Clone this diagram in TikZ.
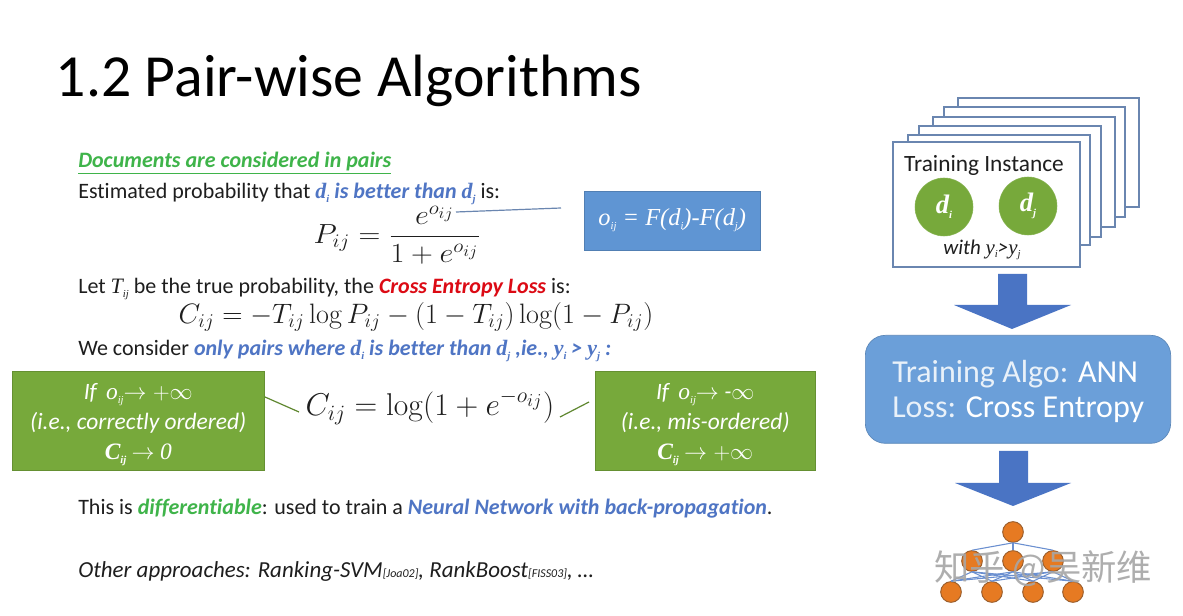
\documentclass[tikz,border=0pt]{standalone}
\usepackage[no-math]{fontspec}
\setmainfont[Ligatures=NoCommon]{Carlito}
\newfontfamily\cjk{Noto Sans CJK SC}
\newfontfamily\serifm{Liberation Serif}
\definecolor{hlblue}{HTML}{4F75C4}
\definecolor{hlgreen}{HTML}{3FB44A}
\definecolor{hlred}{HTML}{DC0A14}
\definecolor{boxgreen}{HTML}{77A93B}
\definecolor{boxblue}{HTML}{5F95D3}
\definecolor{algoblue}{HTML}{6B9FD9}
\definecolor{arrowblue}{HTML}{4A74C4}
\definecolor{stackline}{HTML}{6A86B0}
\definecolor{treeorange}{HTML}{E67A22}
\definecolor{treeedge}{HTML}{6A8FD0}
\definecolor{textdark}{HTML}{1E1E1E}
\newcommand{\bi}[2]{{\color{#1}\bfseries\itshape #2}}
\newcommand{\dn}[1]{\raisebox{-0.35ex}{\footnotesize #1}}
\newcommand{\mv}[1]{{\serifm\itshape #1}}
\tikzset{
  x=0.75pt,y=-0.75pt,
  line/.style={font=\fontsize{16.5}{19}\selectfont,anchor=base west,inner sep=0pt,text=textdark},
  formula/.style={inner sep=0pt,text=textdark,font=\fontsize{20.74}{25}\selectfont},
  greenbox/.style={fill=boxgreen,draw=boxgreen!85!black,line width=0.4pt,text=white,align=center,inner sep=0pt,font=\fontsize{17.6}{22.5}\selectfont\itshape,anchor=north west},
  link/.style={draw=#1,line width=0.9pt},
  sheet/.style={draw=stackline,line width=0.8pt,fill=white},
  doc/.style={circle,fill=boxgreen,draw=boxgreen!90!white,minimum size=43.5pt,inner sep=0pt,text=white,font=\fontsize{20}{22}\selectfont\bfseries\itshape},
  neuron/.style={circle,fill=treeorange,draw=treeorange!70!black!80!gray,line width=0.7pt,minimum size=15.5pt,inner sep=0pt},
  edge/.style={draw=treeedge,line width=0.8pt},
  bigarrow/.style={fill=arrowblue},
}
\begin{document}
\begin{tikzpicture}
\useasboundingbox (0,0) rectangle (1183,616);
\fill[white] (0,0) rectangle (1183,616);

% title
\node[anchor=base west,inner sep=0pt,text=black,font=\fontsize{44.8}{50}\selectfont] (title) at (55.5,97) {1.2 Pair-wise Algorithms};

% left text
\node[line] (t1) at (78,168) {{\color{hlgreen}\underline{\bfseries\itshape Documents are considered in pairs}}};
\node[line] (t2) at (78,199) {Estimated probability that \bi{hlblue}{\mv{d}\dn{\mv{i}} is better than \mv{d}\dn{\mv{j}}} is:};
\node[formula,xscale=1.095] (p) at (397,235) {$\displaystyle P_{ij}=\frac{e^{o_{ij}}}{1+e^{o_{ij}}}$};
\node[line] (t3) at (78,294) {Let \mv{T}\dn{\mv{ij}} be the true probability, the \bi{hlred}{Cross Entropy Loss} is:};
\node[formula,scale=1.015] (c) at (416,317) {$\displaystyle C_{ij}=-T_{ij}\log P_{ij}-(1-T_{ij})\log(1-P_{ij})$};
\node[line] (t4) at (78,356) {We consider \bi{hlblue}{only pairs where \mv{d}\dn{\mv{i}} is better than \mv{d}\dn{\mv{j}} ,ie., \mv{y}\dn{\mv{i}} > \mv{y}\dn{\mv{j}} :}};
\node[formula,scale=1.139] (l) at (430,407) {$\displaystyle C_{ij}=\log(1+e^{-o_{ij}})$};
\node[line] (t5) at (78,515) {This is \bi{hlgreen}{differentiable}: used to train a \bi{hlblue}{Neural Network with back-propagation}.};
\node[line,font=\fontsize{17.2}{19}\selectfont] (t6) at (78,578) {\itshape Other approaches: Ranking-SVM{\small [Joa02]}, RankBoost{\small [FISS03]}, \dots};

% blue box
\node[fill=boxblue,draw=boxblue!85!black,line width=0.4pt,text=white,minimum width=132pt,minimum height=44pt,inner sep=0pt,anchor=north west,font=\fontsize{18.3}{20}\selectfont\serifm\itshape] (obox) at (584,191) {o\dn{ij} = F(d\dn{i})-F(d\dn{j})};
\coordinate (oa) at (456,212);
\coordinate (ob) at (561,208);
\draw[link=stackline] (oa) -- (ob);

% green boxes
\node[greenbox,minimum width=189pt,minimum height=74pt] (gl) at (12,371) {\rule{0pt}{18.5pt}If\, \mv{o}\dn{\mv{ij}}$\rightarrow +\infty$\\(i.e., correctly ordered)\\\mv{\bfseries C}\dn{\mv{\bfseries ij}} $\rightarrow$ \mv{0}};
\node[greenbox,minimum width=165pt,minimum height=74pt] (gr) at (595,371) {\rule{0pt}{18.5pt}If\, \mv{o}\dn{\mv{ij}}$\rightarrow$ -$\infty$\\(i.e., mis-ordered)\\\mv{\bfseries C}\dn{\mv{\bfseries ij}} $\rightarrow +\infty$};
\coordinate (la) at (265,397);
\coordinate (lb) at (299,412);
\coordinate (ra) at (560,417);
\coordinate (rb) at (589,402);
\draw[link=boxgreen!80!black] (la) -- (lb);
\draw[link=boxgreen!80!black] (ra) -- (rb);

% stack of training instances
\draw[sheet] (958,98) rectangle (1139,207);
\draw[sheet] (944,107) rectangle (1125,217);
\draw[sheet] (933,117) rectangle (1115,227);
\draw[sheet] (919,126) rectangle (1101,237);
\draw[sheet] (908,135) rectangle (1090,245);
\draw[sheet] (893,142) rectangle (1080,267);
\node[anchor=center,inner sep=0pt,text=textdark,font=\fontsize{17.5}{20}\selectfont] (ti) at (984,165) {Training Instance};
\node[doc] (di) at (944,207) {\mv{d}\dn{\mv{i}}};
\node[doc] (dj) at (1028,206) {\mv{d}\dn{\mv{j}}};
\node[anchor=center,inner sep=0pt,text=textdark,font=\fontsize{15.7}{18}\selectfont\itshape] (wy) at (982,250) {with \mv{y}\dn{\mv{i}}>\mv{y}\dn{\mv{j}}};

% arrows
\fill[bigarrow] (998,274) -- (1027,274) -- (1027,305) -- (1071,305) -- (1012,329) -- (954,305) -- (998,305) -- cycle;
\fill[bigarrow] (999,451) -- (1028,451) -- (1028,483) -- (1071,483) -- (1013,506) -- (955,483) -- (999,483) -- cycle;

% algo box
\node[fill=algoblue,draw=algoblue!85!black,line width=0.5pt,rounded corners=15pt,minimum width=229pt,minimum height=81pt,inner sep=0pt,anchor=north west] (algo) at (865,335) {};
\node[anchor=base west,inner sep=0pt,text=white,font=\fontsize{24}{28}\selectfont] (a1) at (892,383) {{\color{white!85!algoblue}Training Algo:} ANN};
\node[anchor=base west,inner sep=0pt,text=white,font=\fontsize{24}{28}\selectfont] (a2) at (892,418) {{\color{white!85!algoblue}Loss:} Cross Entropy};

% network
\node[neuron] (n0) at (1013,532) {};
\node[neuron] (m1) at (972,561) {};
\node[neuron] (m2) at (1013,561) {};
\node[neuron] (m3) at (1053,561) {};
\node[neuron] (b1) at (951,592) {};
\node[neuron] (b2) at (992,592) {};
\node[neuron] (b3) at (1033,592) {};
\node[neuron] (b4) at (1073,592) {};
\foreach \m in {m1,m2,m3}{
  \draw[edge] (n0.south) -- (\m.north);
  \foreach \b in {b1,b2,b3,b4}{ \draw[edge] (\m.south) -- (\b.north); }
}

% watermark
\node[anchor=center,inner sep=0pt,text=gray!70,opacity=0.9,font=\cjk\fontsize{26.5}{30}\selectfont] (wm) at (1043,569) {知乎 @吴新维};
\end{tikzpicture}
\end{document}
